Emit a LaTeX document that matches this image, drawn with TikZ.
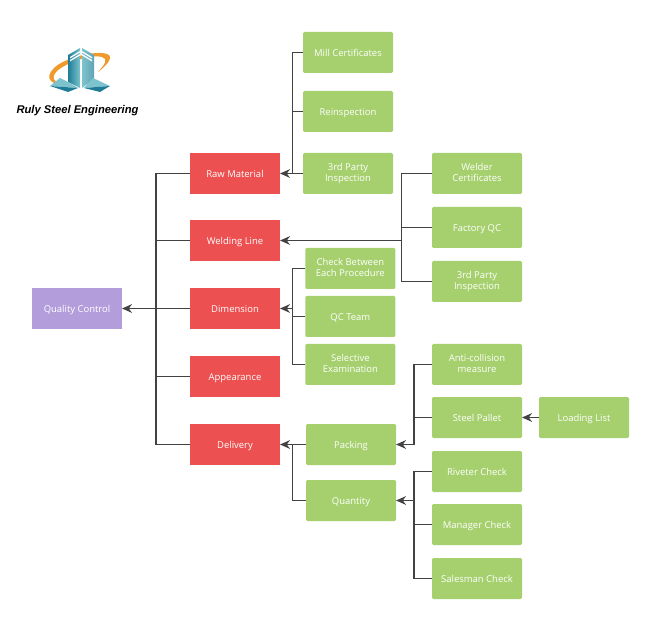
\documentclass[tikz,border=0pt]{standalone}
\usepackage{fontspec}
\setmainfont{Open Sans}
\newfontfamily\logofont{Liberation Sans}
\usetikzlibrary{arrows.meta, positioning}
\definecolor{rootfill}{HTML}{B39DDB}
\definecolor{redfill}{HTML}{EC5050}
\definecolor{greenfill}{HTML}{A5D06D}
\definecolor{linegray}{HTML}{424242}
\definecolor{tealdark}{HTML}{1F7C97}
\definecolor{teallight}{HTML}{7CC3CD}
\definecolor{logoorange}{HTML}{EE9A2D}
\newcommand{\boxstrut}{\vrule height 7.6pt depth 2.2pt width 0pt}

\begin{document}
\begin{tikzpicture}[
            x = 0.75pt,
            y = -0.75pt,
            > = {Stealth[length=7.5pt, width=6.5pt]}, % arrow head style
            line width = 0.9pt, % line style
        ]
\tikzstyle{nodestyle}=[
            shape = rectangle,
            rounded corners = 1pt,
            outer sep = 0pt,
            inner sep = 1pt,
            minimum width = 67.5pt,
            minimum height = 30.75pt,
            align = center,
            text = white,
            font = \fontsize{7.1}{8.3}\selectfont,
            execute at begin node = \boxstrut,
            execute at end node = \boxstrut
        ]
\tikzstyle{rootbox}=[nodestyle, fill = rootfill, rounded corners = 0pt]
\tikzstyle{redbox}=[nodestyle, fill = redfill, rounded corners = 0pt]
\tikzstyle{greenbox}=[nodestyle, fill = greenfill]
\tikzstyle{conn}=[draw = linegray]
\useasboundingbox (0,0) rectangle (650,620);
% logo
\fill[logoorange] (68,84) .. controls (50,86) and (44,78) .. (54,68)
    .. controls (64,58) and (96,50) .. (107,54) .. controls (113,56) and (110,63) .. (98,72)
    .. controls (106,63) and (108,59) .. (102,57) .. controls (90,54) and (66,63) .. (57,71)
    .. controls (50,78) and (54,84) .. (68,84) -- cycle;
\shade[left color = tealdark, right color = teallight] (68,55) -- (80,48) -- (80,88) -- (68,82) -- cycle;
\shade[left color = teallight, right color = tealdark!70] (82,48) -- (94,55) -- (94,79) -- (82,88) -- cycle;
\fill[white] (70,57) -- (80,51) -- (80,52.5) -- (70,58.5) -- cycle
    (70,60) -- (80,54) -- (80,55.5) -- (70,61.5) -- cycle
    (92,57) -- (82,51) -- (82,52.5) -- (92,58.5) -- cycle
    (92,60) -- (82,54) -- (82,55.5) -- (92,61.5) -- cycle;
\fill[teallight] (50,86) -- (60,78) -- (68,82) -- (78,88) -- cycle;
\fill[tealdark] (50,86) -- (78,88) -- (68,92) -- cycle;
\fill[teallight] (84,88) -- (93,78) -- (110,86) -- cycle;
\fill[tealdark] (84,88) -- (110,86) -- (100,92) -- cycle;
\node[font = \logofont\bfseries\itshape\fontsize{8.4}{10}\selectfont] (logotext) at (77.5,110.5) {Ruly Steel Engineering};
% main column
\node[rootbox] (qc) at (77,308.5) {Quality Control};
\node[redbox] (dim) at (235,308.5) {Dimension};
\node[redbox, above=20.25pt of dim] (weld) {Welding Line};
\node[redbox, above=19.5pt of weld] (raw) {Raw Material};
\node[redbox, below=20.25pt of dim] (look) {Appearance};
\node[redbox, below=20.25pt of look] (deliv) {Delivery};
% raw material
\node[greenbox, right=17.25pt of raw] (third) {3rd Party\\Inspection};
\node[greenbox, above=15.75pt of third] (reins) {Reinspection};
\node[greenbox, above=13.5pt of reins] (mill) {Mill Certificates};
% welding line
\node[greenbox, right=29.25pt of third] (welder) {Welder\\Certificates};
\node[greenbox, below=9.75pt of welder] (fqc) {Factory QC};
\node[greenbox, below=9.75pt of fqc] (thirdw) {3rd Party\\Inspection};
% dimension
\node[greenbox, right=19pt of dim, yshift=-6pt] (team) {QC Team};
\node[greenbox, above=5.25pt of team] (check) {Check Between\\Each Procedure};
\node[greenbox, below=5.25pt of team] (select) {Selective\\Examination};
% delivery
\node[greenbox, right=19.5pt of deliv] (pack) {Packing};
\node[greenbox, below=11.25pt of pack] (qty) {Quantity};
\node[greenbox, right=27pt of pack, yshift=20.25pt] (pallet) {Steel Pallet};
\node[greenbox, above=9pt of pallet] (anti) {Anti-collision\\measure};
\node[greenbox, right=12.75pt of pallet] (list) {Loading List};
\node[greenbox, below=9.75pt of pallet] (rivet) {Riveter Check};
\node[greenbox, below=9pt of rivet] (manager) {Manager Check};
\node[greenbox, below=9.75pt of manager] (sales) {Salesman Check};
% joints
\coordinate (rootjoin) at (156,308.5);
\coordinate (rawjoin) at (292.5,173.5);
\coordinate (weldjoin) at (401.5,240.5);
\coordinate (dimjoin) at (292.5,308.5);
\coordinate (delivjoin) at (292.5,444.5);
\coordinate (packjoin) at (414,444.5);
\coordinate (qtyjoin) at (414,500.5);
% connectors
\draw[conn] (raw.west) -| (rootjoin);
\draw[conn] (weld.west) -- (weld.west -| rootjoin);
\draw[conn] (look.west) -- (look.west -| rootjoin);
\draw[conn] (deliv.west) -| (rootjoin);
\draw[conn, ->] (dim.west) -- (qc.east);
\draw[conn] (mill.west) -| (rawjoin);
\draw[conn] (reins.west) -- (reins.west -| rawjoin);
\draw[conn, ->] (third.west) -- (raw.east);
\draw[conn] (welder.west) -| (weldjoin);
\draw[conn] (fqc.west) -- (fqc.west -| weldjoin);
\draw[conn] (thirdw.west) -| (weldjoin);
\draw[conn, ->] (weldjoin) -- (weld.east);
\draw[conn] (check.west) -| (dimjoin);
\draw[conn] (select.west) -| (dimjoin);
\draw[conn] (team.west) -- (team.west -| dimjoin);
\draw[conn, ->] (dimjoin) -- (dim.east);
\draw[conn, ->] (pack.west) -- (deliv.east);
\draw[conn] (qty.west) -| (delivjoin);
\draw[conn] (anti.west) -| (packjoin);
\draw[conn] (pallet.west) -- (pallet.west -| packjoin);
\draw[conn, ->] (packjoin) -- (pack.east);
\draw[conn, ->] (list.west) -- (pallet.east);
\draw[conn] (rivet.west) -| (qtyjoin);
\draw[conn] (manager.west) -- (manager.west -| qtyjoin);
\draw[conn] (sales.west) -| (qtyjoin);
\draw[conn, ->] (qtyjoin) -- (qty.east);
\end{tikzpicture}
\end{document}
